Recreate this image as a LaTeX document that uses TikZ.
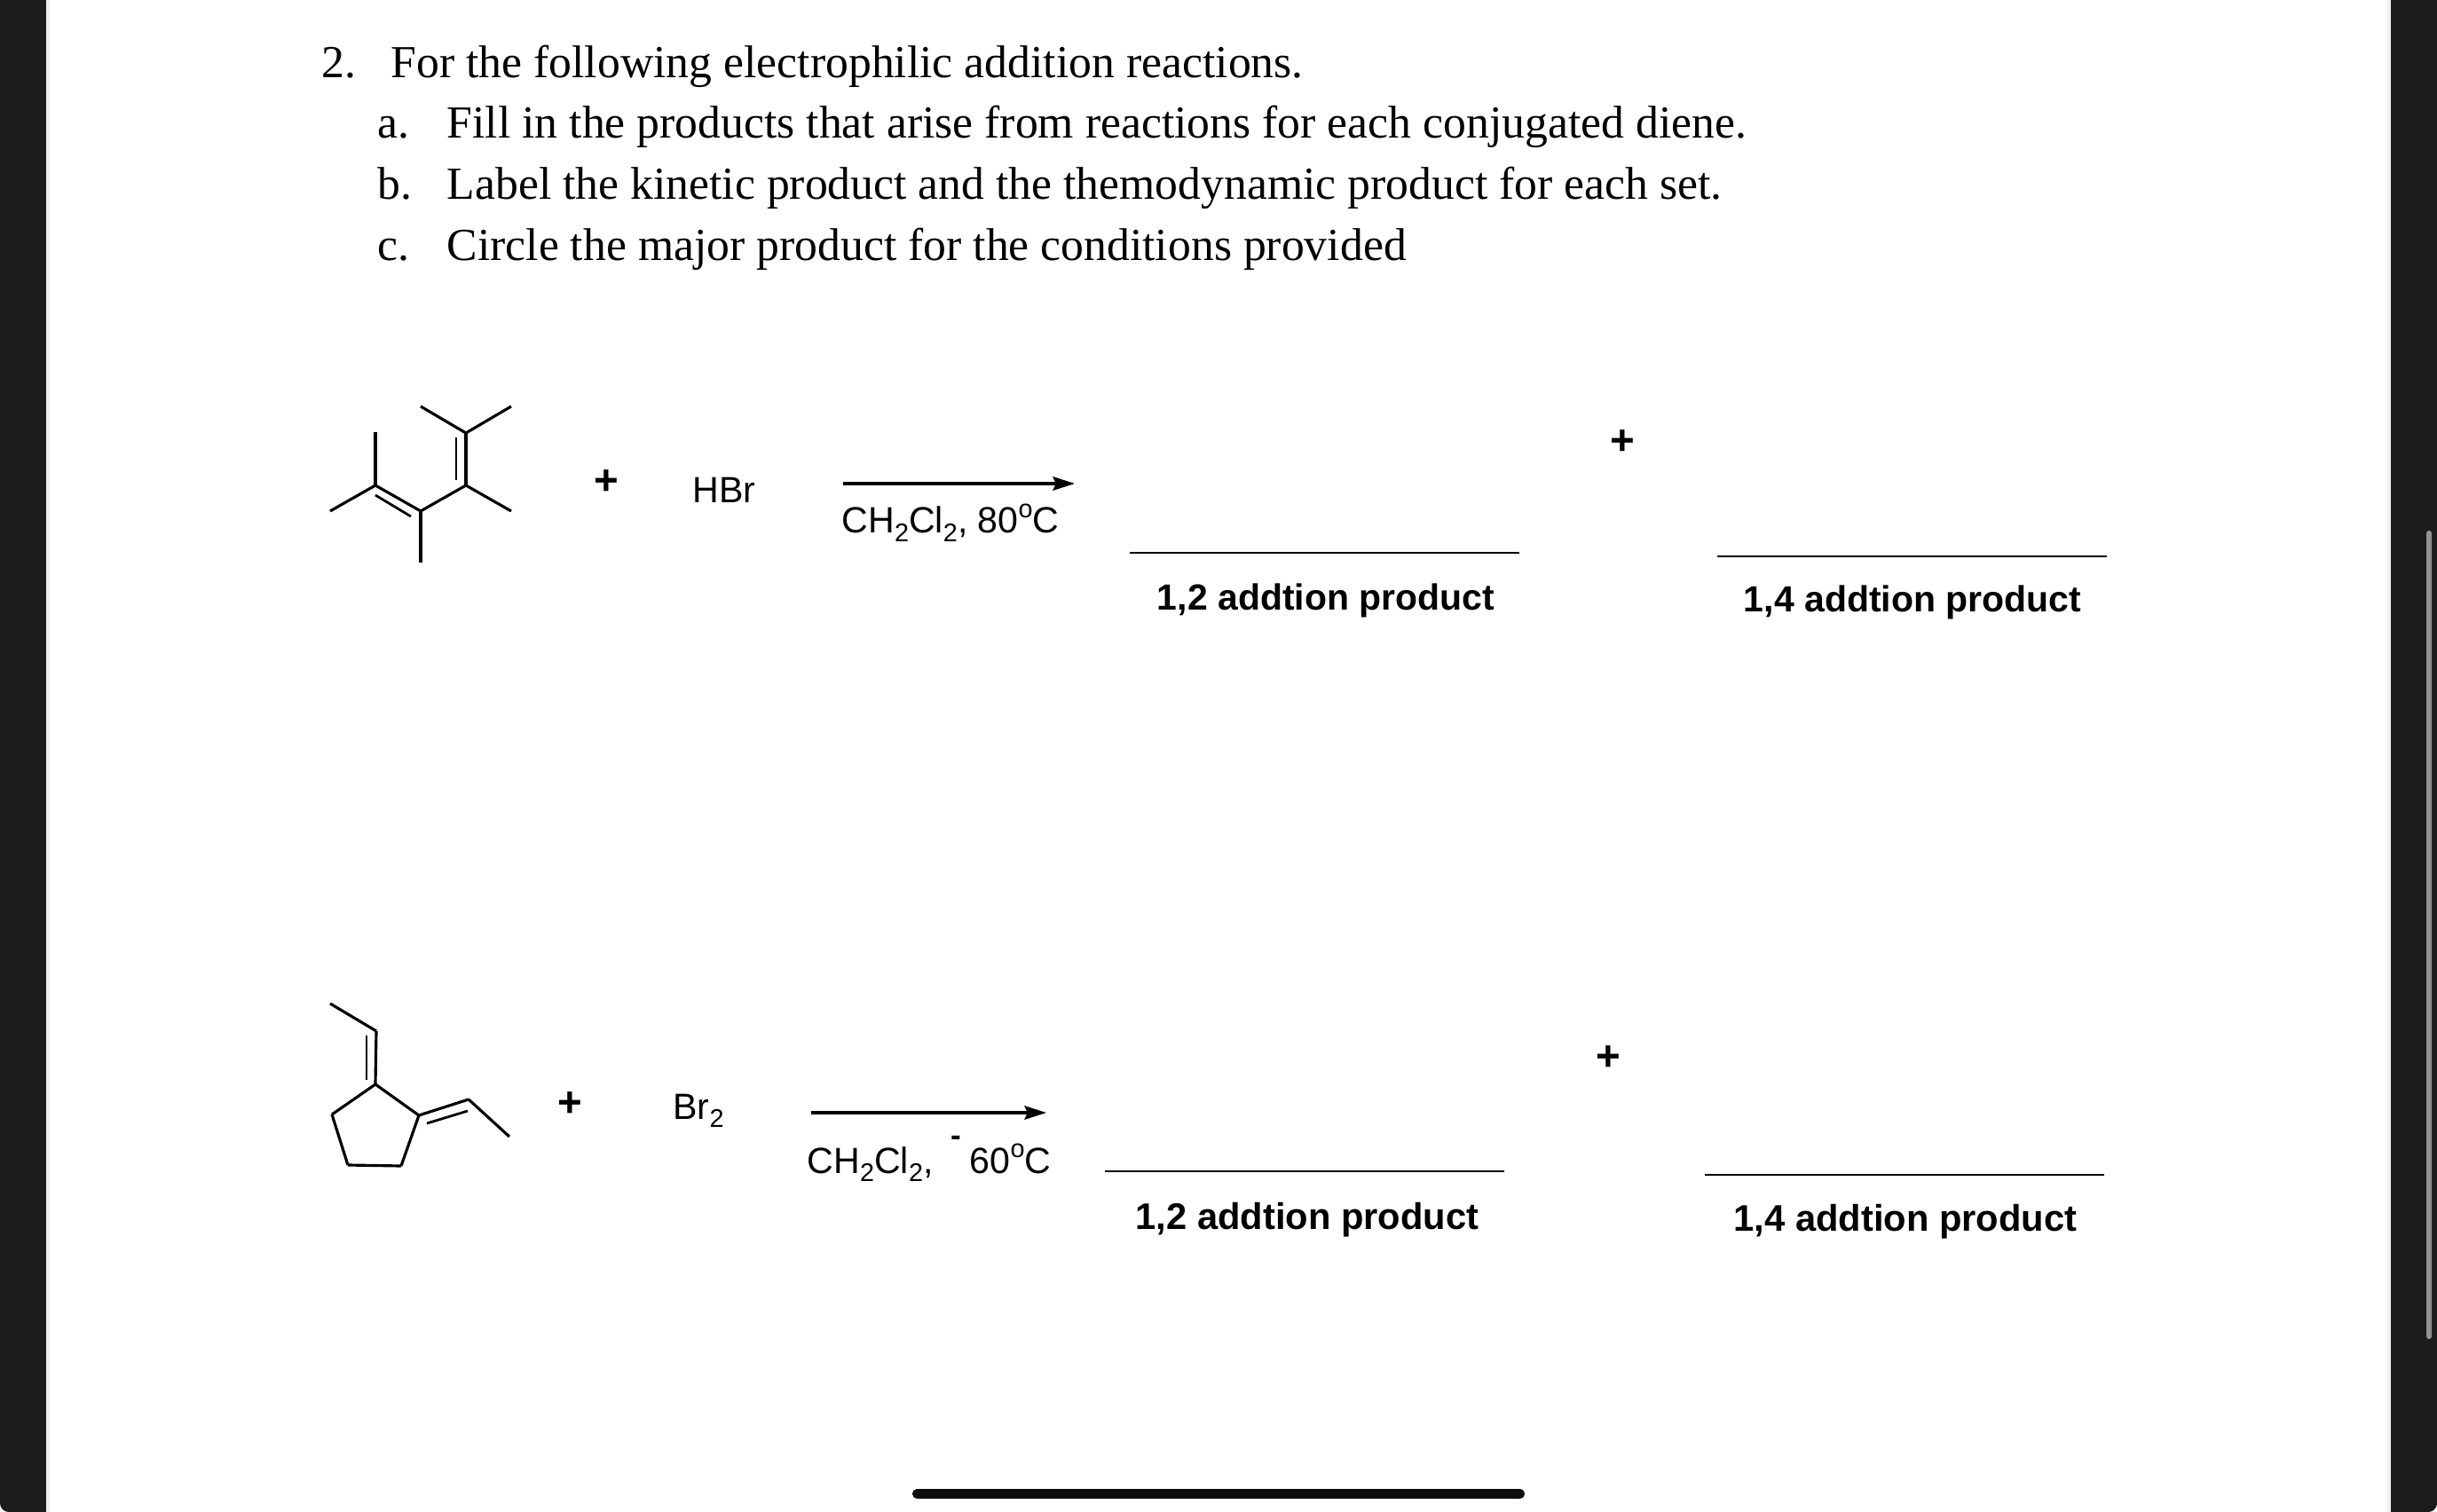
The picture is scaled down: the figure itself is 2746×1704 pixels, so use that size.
\documentclass[tikz,border=0pt]{standalone}
\usepackage{fontspec}
\setmainfont{Liberation Serif}
\setsansfont{Liberation Sans}
\usetikzlibrary{arrows.meta}
\newcommand{\lsub}[1]{\raisebox{-0.24em}{\fontsize{8.2}{8.2}\selectfont #1}}
\newcommand{\lsup}[1]{\raisebox{0.42em}{\fontsize{8.2}{8.2}\selectfont #1}}
\tikzset{
  bond/.style={line width=0.9pt},
  inbond/.style={line width=0.8pt},
  rxnarrow/.style={line width=0.9pt,-{Stealth[length=7pt,width=4.4pt,inset=1pt]}},
  blank/.style={line width=0.8pt},
  txt/.style={font=\fontsize{14.7}{14.7}\selectfont,anchor=base west,inner sep=0pt},
  chem/.style={font=\sffamily\fontsize{11.7}{11.7}\selectfont,anchor=base,inner sep=0pt},
  prod/.style={font=\sffamily\bfseries\fontsize{11.65}{11.65}\selectfont,anchor=base,inner sep=0pt},
  prodb/.style={prod,font=\sffamily\bfseries\fontsize{11.85}{11.85}\selectfont},
  plus/.style={font=\sffamily\bfseries\fontsize{13.5}{13.5}\selectfont,inner sep=0pt}
}
\definecolor{framecol}{HTML}{1C1C1E}
\definecolor{barcol}{HTML}{0C0C0C}
\definecolor{scrollcol}{HTML}{929294}
\definecolor{edgecol}{HTML}{EFEFEF}
\begin{document}
\begin{tikzpicture}[x=0.01cm,y=-0.01cm]
  \useasboundingbox (0,0) rectangle (2746,1704);
  % frame
  \fill[framecol] (52,0) -- (0,0) [rounded corners=2.8pt] -- (0,1704) [sharp corners] -- (52,1704) -- cycle;
  \fill[framecol] (2694,0) -- (2746,0) [rounded corners=2.8pt] -- (2746,1704) [sharp corners] -- (2694,1704) -- cycle;
  \fill[edgecol] (52,0) rectangle (56,1704);
  \fill[edgecol] (2690,0) rectangle (2694,1704);
  \fill[scrollcol,rounded corners=0.8pt] (2734,598) rectangle (2740,1509);
  \fill[barcol,rounded corners=1.5pt] (1028,1678) rectangle (1718,1689);
  % question
  \node[txt] (q0) at (362,88) {2.};
  \node[txt] (q1) at (440,88) {For the following electrophilic addition reactions.};
  \node[txt] (a0) at (425,156) {a.};
  \node[txt] (a1) at (503,156) {Fill in the products that arise from reactions for each conjugated diene.};
  \node[txt] (b0) at (425,225) {b.};
  \node[txt] (b1) at (503,225) {Label the kinetic product and the themodynamic product for each set.};
  \node[txt] (c0) at (425,294) {c.};
  \node[txt] (c1) at (503,294) {Circle the major product for the conditions provided};
  % first diene
  \draw
    (423,547) coordinate (m1)
    (372,576) coordinate (m2)
    (423,487) coordinate (m3)
    (474,576) coordinate (m4)
    (474,634) coordinate (m5)
    (525,547) coordinate (m6)
    (576,576) coordinate (m7)
    (525,488) coordinate (m8)
    (474,458) coordinate (m9)
    (576,458) coordinate (m10)
    (423,558) coordinate (i1)
    (463,582) coordinate (i2)
    (514,493) coordinate (i3)
    (514,541) coordinate (i4);
  \begin{scope}[bond]
    \draw (m1) to (m2);
    \draw (m1) to (m3);
    \draw (m1) to (m4);
    \draw (m4) to (m5);
    \draw (m4) to (m6);
    \draw (m6) to (m7);
    \draw (m6) to (m8);
    \draw (m8) to (m9);
    \draw (m8) to (m10);
  \end{scope}
  \draw[inbond] (i1) to (i2);
  \draw[inbond] (i3) to (i4);
  % first reaction
  \node[plus] (p1) at (683,544) {+};
  \node[chem] (hbr) at (816,567) {HBr};
  \coordinate (r1) at (950,545);
  \coordinate (r2) at (1211,545);
  \draw[rxnarrow] (r1) to (r2);
  \node[chem] (cond1) at (1071,601) {CH\lsub{2}Cl\lsub{2}, 80\lsup{o}C};
  \coordinate (l1) at (1273,623);
  \coordinate (l2) at (1712,623);
  \draw[blank] (l1) to (l2);
  \coordinate (l3) at (1935,627);
  \coordinate (l4) at (2374,627);
  \draw[blank] (l3) to (l4);
  \node[plus] (p2) at (1828,499) {+};
  \node[prod] (t1) at (1494,688) {1,2 addtion product};
  \node[prod] (t2) at (2155,690) {1,4 addtion product};
  % second diene
  \draw
    (372,1131) coordinate (n1)
    (424,1162) coordinate (n2)
    (423,1222) coordinate (n3)
    (472,1257) coordinate (n4)
    (528,1239) coordinate (n5)
    (574,1281) coordinate (n6)
    (374,1256) coordinate (n7)
    (392,1313) coordinate (n8)
    (452,1314) coordinate (n9)
    (413,1167) coordinate (j1)
    (413,1217) coordinate (j2)
    (481,1266) coordinate (j3)
    (527,1252) coordinate (j4);
  \begin{scope}[bond]
    \draw (n1) to (n2);
    \draw (n2) to (n3);
    \draw (n3) to (n4);
    \draw (n4) to (n5);
    \draw (n5) to (n6);
    \draw (n3) to (n7);
    \draw (n7) to (n8);
    \draw (n8) to (n9);
    \draw (n9) to (n4);
  \end{scope}
  \draw[inbond] (j1) to (j2);
  \draw[inbond] (j3) to (j4);
  % second reaction
  \node[plus] (p3) at (642,1245) {+};
  \node[chem] (br2) at (787,1261) {Br\lsub{2}};
  \coordinate (s1) at (914,1254);
  \coordinate (s2) at (1179,1254);
  \draw[rxnarrow] (s1) to (s2);
  \node[chem] (cond2) at (1047,1322) {CH\lsub{2}Cl\lsub{2},\hspace{0.48em}\raisebox{0.75em}{\fontsize{10}{10}\selectfont\bfseries -}\hspace{0.24em}60\lsup{o}C};
  \coordinate (l5) at (1245,1320);
  \coordinate (l6) at (1695,1320);
  \draw[blank] (l5) to (l6);
  \coordinate (l7) at (1921,1324);
  \coordinate (l8) at (2371,1324);
  \draw[blank] (l7) to (l8);
  \node[plus] (p4) at (1812,1193) {+};
  \node[prodb] (t3) at (1473,1385) {1,2 addtion product};
  \node[prodb] (t4) at (2147,1387) {1,4 addtion product};
\end{tikzpicture}
\end{document}
